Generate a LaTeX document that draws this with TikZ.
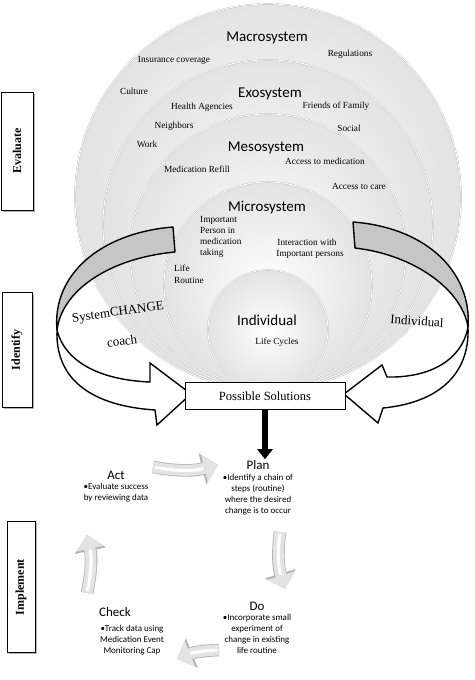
\documentclass[tikz,border=0pt]{standalone}
\usepackage{fontspec}
\setmainfont{Liberation Serif}
\newfontfamily\calfont{Carlito}
\usepackage{tikz}
\usetikzlibrary{arrows.meta,positioning,shadows}

\begin{document}
\begin{tikzpicture}[x=1pt,y=-1pt,
syscircle/.style={circle,inner sep=0pt,draw=gray!50,double=white,double distance=0.8pt,shading=radial,inner color=white,outer color=gray!22},
systitle/.style={font=\calfont\fontsize{15}{17}\selectfont,inner sep=1pt},
factor/.style={font=\fontsize{9.3}{11}\selectfont,inner sep=0pt},
bandlabel/.style={font=\fontsize{13}{15}\selectfont,inner sep=0pt},
sidebox/.style={draw,thick,fill=white,font=\bfseries\fontsize{12}{14}\selectfont,drop shadow={shadow xshift=2pt,shadow yshift=-1.5pt,opacity=0.6}},
bandgray/.style={draw=black,line width=1.4pt,fill=gray!45,line join=round},
bandwhite/.style={draw=black,line width=1.4pt,fill=white,line join=miter},
solarrow/.style={line width=6pt,-{Triangle[width=15pt,length=10pt]}},
cycarrow/.style={line width=11pt,draw=gray!22,-{Triangle[width=28pt,length=14pt]},
  preaction={draw=gray!60,line width=12.6pt,-{Triangle[width=31pt,length=16pt]}},
  postaction={draw=white,line width=3pt,arrows=-,shorten >=15pt,shorten <=2pt}},
pdcatitle/.style={font=\calfont\fontsize{13}{15}\selectfont,inner sep=1pt},
pdcatext/.style={font=\calfont\fontsize{9}{11}\selectfont,align=center,inner sep=0pt}]

\useasboundingbox (0,0) rectangle (474,680);

% side labels
\node[sidebox,minimum width=32,minimum height=118] (evaluate) at (17,151) {\rotatebox{90}{Evaluate}};
\node[sidebox,minimum width=30,minimum height=115] (identify) at (17,350) {\rotatebox{90}{Identify}};
\node[sidebox,minimum width=28,minimum height=131] (implement) at (21,587) {\rotatebox{90}{Implement}};

% nested systems
\node[syscircle,minimum size=386] (macro) at (268,197) {};
\node[syscircle,minimum size=330] (exo) at (268,225) {};
\node[syscircle,minimum size=276] (meso) at (268,252) {};
\node[syscircle,minimum size=208] (micro) at (268,286) {};
\node[syscircle,minimum size=120] (indiv) at (268,330) {};

\node[systitle] (macrotxt) at (267,38) {Macrosystem};
\node[factor] (regul) at (350,54) {Regulations};
\node[factor] (insur) at (174,60) {Insurance coverage};
\node[factor] (culture) at (134,91) {Culture};
\node[systitle] (exotxt) at (270,94) {Exosystem};
\node[factor] (health) at (202,107) {Health Agencies};
\node[factor] (friends) at (336,106) {Friends of Family};
\node[factor] (neighb) at (174,126) {Neighbors};
\node[factor] (social) at (349,128) {Social};
\node[factor] (work) at (147,144) {Work};
\node[systitle] (mesotxt) at (266,148) {Mesosystem};
\node[factor] (accmed) at (325,161) {Access to medication};
\node[factor] (refill) at (197,169) {Medication Refill};
\node[factor] (acccare) at (359,186) {Access to care};
\node[systitle] (microtxt) at (267,208) {Microsystem};
\node[factor,align=left,anchor=north west] (imppers) at (200,216) {Important\\Person in\\medication\\taking};
\node[factor,align=center] (interact) at (307,249) {Interaction with\\\hspace*{6pt}Important persons};
\node[factor,align=left,anchor=north west,font=\fontsize{9.3}{12}\selectfont] (routine) at (174,265) {Life\\Routine};
\node[systitle] (indtxt) at (267,320) {Individual};
\node[factor] (cycles) at (277,342) {Life Cycles};

% coach arrows round the systems
\coordinate (ltip) at (191,394);
\coordinate (rtip) at (344,394);
\draw[bandgray] (173,227) .. controls (100,233) and (52,275) .. (57,330)
  .. controls (62,290) and (110,258) .. (175,252) -- cycle;
\draw[bandwhite] (57,330) .. controls (55,382) and (95,406) .. (155,410) -- (157,425) -- (ltip)
  -- (150,363) -- (150,382) .. controls (100,380) and (65,362) .. (57,330) -- cycle;
\draw[bandgray] (353,222) .. controls (430,228) and (472,275) .. (468,327)
  .. controls (462,290) and (415,255) .. (355,248) -- cycle;
\draw[bandwhite] (468,327) .. controls (470,377) and (435,403) .. (383,408) -- (378,423) -- (rtip)
  -- (382,365) -- (387,377) .. controls (430,378) and (462,360) .. (468,327) -- cycle;

\node[bandlabel,rotate=8] (change) at (118,313) {SystemCHANGE};
\node[bandlabel,rotate=8] (coach) at (122,341) {coach};
\node[bandlabel,rotate=-4] (indright) at (417,321) {Individual};

\node[draw,thick,fill=white,minimum width=160,minimum height=27,font=\fontsize{12.5}{14}\selectfont] (sol) at (265,396) {Possible Solutions};

% PDCA cycle
\node[pdcatitle] (plan) at (258,465) {Plan};
\node[pdcatext,below=3pt of plan] (plantxt) {•Identify a chain of\\steps (routine)\\where the desired\\change is to occur};
\node[pdcatitle] (do) at (257,606) {Do};
\node[pdcatext,below=3pt of do] (dotxt) {•Incorporate small\\experiment of\\change in existing\\life routine};
\node[pdcatitle] (check) at (115,612) {Check};
\node[pdcatext,anchor=north] (checktxt) at (132,625) {•Track data using\\Medication Event\\Monitoring Cap};
\node[pdcatitle] (act) at (116,475) {Act};
\node[pdcatext,below=3pt of act] (acttxt) {•Evaluate success\\by reviewing data};

\draw[solarrow] (sol.south) -- (sol.south |- plan.north);

\coordinate (a1) at (153,467);
\coordinate (a2) at (218,465);
\coordinate (p1) at (280,532);
\coordinate (p2) at (285,589);
\coordinate (d1) at (219,650);
\coordinate (d2) at (177,659);
\coordinate (c1) at (87,593);
\coordinate (c2) at (87,535);
\draw[cycarrow] (a1) to[bend right=12] (a2);
\draw[cycarrow] (p1) to[bend right=12] (p2);
\draw[cycarrow] (d1) to[bend right=10] (d2);
\draw[cycarrow] (c1) to[bend right=12] (c2);

\end{tikzpicture}
\end{document}
